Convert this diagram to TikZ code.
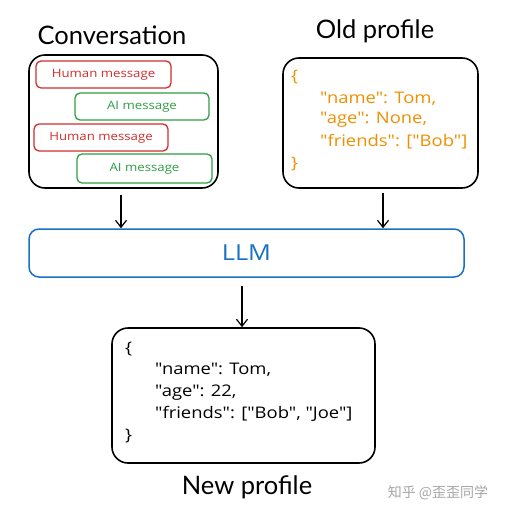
\documentclass[tikz,border=0pt]{standalone}
\usepackage{fontspec}
\setmainfont{Lato}
\newfontfamily\handfont[FakeStretch=1.15]{Open Sans}
\newfontfamily\cjkfont{Noto Sans CJK SC}
\usetikzlibrary{arrows.meta,positioning,calc}
\definecolor{exred}{HTML}{D02F2F}
\definecolor{exgreen}{HTML}{2F9E44}
\definecolor{exblue}{HTML}{1971C2}
\definecolor{exorange}{HTML}{EE9000}
\begin{document}
\begin{tikzpicture}[x=1pt,y=-1pt,
  bigbox/.style={draw=black,line width=1.6pt,rounded corners=16pt,inner sep=0pt},
  msgbox/.style={draw,line width=1.3pt,rounded corners=5pt,inner sep=0pt,font=\handfont\fontsize{11.5}{14}\selectfont},
  title/.style={font=\fontsize{25.5}{28}\selectfont,inner sep=0pt},
  json/.style={anchor=base west,inner sep=0pt,font=\handfont\fontsize{16}{18}\selectfont},
  arr/.style={draw=black,line width=1.2pt,-{Straight Barb[length=7pt,width=11pt,line width=1.2pt]}}]
\useasboundingbox (0,0) rectangle (507,516);
\fill[white] (0,0) rectangle (507,516);
% titles
\node[title] (tconv) at (112,35) {Conversation};
\node[title] (told) at (375,31) {Old profile};
\node[title] (tnew) at (247,487) {New profile};
% conversation
\node[bigbox,minimum width=189pt,minimum height=133pt] (conv) at (123.5,121.5) {};
\node[msgbox,draw=exred,text=exred,minimum width=135pt,minimum height=27pt] (h1) at (103.5,74.5) {Human message};
\node[msgbox,draw=exgreen,text=exgreen,minimum width=134pt,minimum height=27pt] (a1) at (142,106.5) {AI message};
\node[msgbox,draw=exred,text=exred,minimum width=134pt,minimum height=27pt] (h2) at (101,137.5) {Human message};
\node[msgbox,draw=exgreen,text=exgreen,minimum width=135pt,minimum height=29pt] (a2) at (144.5,168.5) {AI message};
% old profile
\node[bigbox,minimum width=195pt,minimum height=130pt] (old) at (380.5,123) {};
\node[json,text=exorange] (o1) at (291,82) {\{};
\node[json,text=exorange] (o2) at (320,103) {"name": Tom,};
\node[json,text=exorange] (o3) at (320,124) {"age": None,};
\node[json,text=exorange] (o4) at (320,146) {"friends": ["Bob"]};
\node[json,text=exorange] (o5) at (291,168) {\}};
% LLM
\node[draw=exblue,line width=1.5pt,rounded corners=10pt,minimum width=435pt,minimum height=48pt,inner sep=0pt,text=exblue,font=\handfont\fontsize{22}{24}\selectfont] (llm) at (246.5,253) {LLM};
% new profile
\node[bigbox,minimum width=263pt,minimum height=135pt] (new) at (243.5,395.5) {};
\node[json] (n1) at (125,353) {\{};
\node[json] (n2) at (155,374) {"name": Tom,};
\node[json] (n3) at (155,396) {"age": 22,};
\node[json] (n4) at (155,418) {"friends": ["Bob", "Joe"]};
\node[json] (n5) at (125,440) {\}};
% arrows
\coordinate (c1) at (121,195);
\coordinate (c2) at (383,193);
\coordinate (c3) at (242,286);
\draw[arr] (c1) -- (c1 |- llm.north);
\draw[arr] (c2) -- (c2 |- llm.north);
\draw[arr] (c3) -- (c3 |- new.north);
% watermark
\node[text=black!35,font=\cjkfont\fontsize{14}{16}\selectfont,inner sep=0pt] (wm) at (438,493) {知乎 @歪歪同学};
\end{tikzpicture}
\end{document}
